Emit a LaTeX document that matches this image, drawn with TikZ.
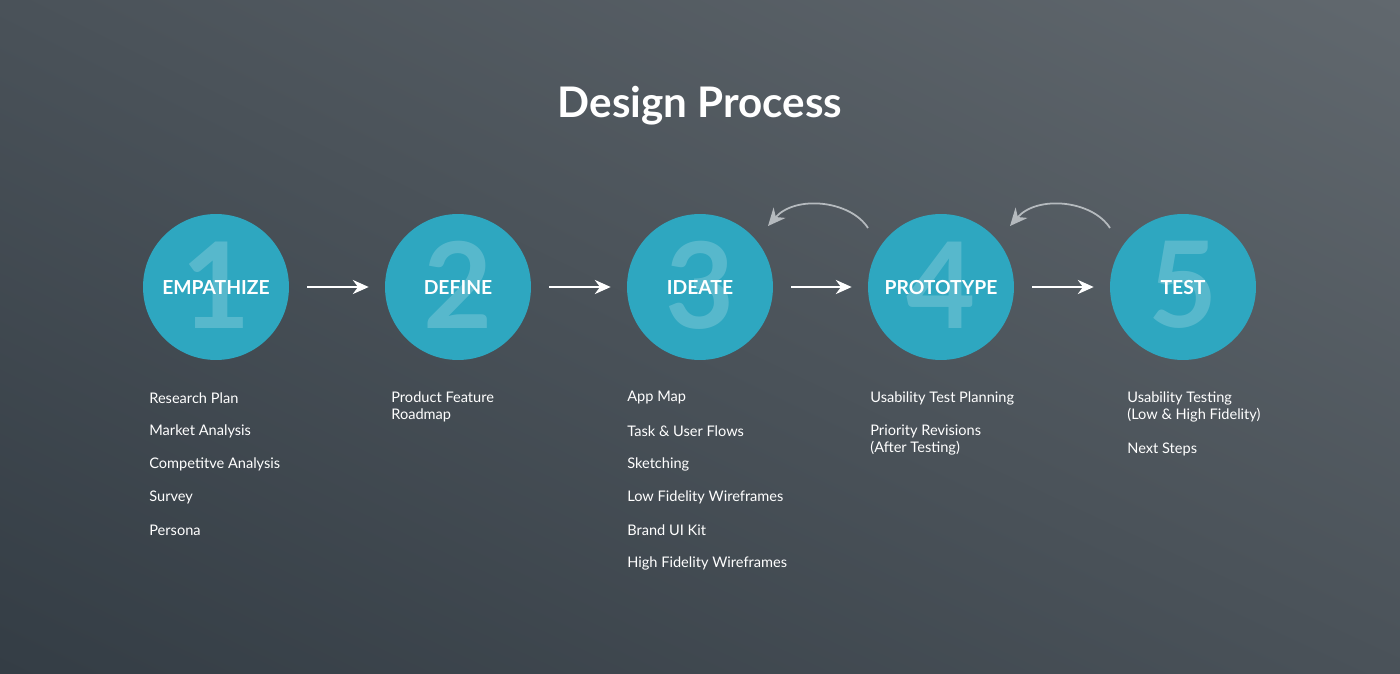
\documentclass[tikz,border=0pt]{standalone}
\usepackage{fontspec}
\setmainfont{Lato}
\usetikzlibrary{arrows.meta,shadings}
\definecolor{bgA}{HTML}{343D45}
\definecolor{bgB}{HTML}{61686E}
\definecolor{bgM}{HTML}{4A5259}
\definecolor{teal}{HTML}{2EA7C0}
\definecolor{curv}{HTML}{B5BABE}
\newcommand{\pxu}{*0.02cm}
\tikzset{
 stage/.style={circle,fill=teal,minimum size=2.92cm,inner sep=0pt},
 digit/.style={text=white,opacity=0.2,font=\fontsize{68}{68}\selectfont\bfseries},
 slabel/.style={text=white,font=\fontsize{11}{13}\selectfont\bfseries},
 item/.style={text=white,anchor=west,align=left,font=\fontsize{8.3}{10}\selectfont,inner sep=0pt},
 flow/.style={white,line width=1.3pt,-{Stealth[length=9pt,width=8pt]}},
 back/.style={curv,line width=1pt,-{Stealth[length=10pt,width=9pt]}},
}
\begin{document}
\begin{tikzpicture}[x=0.02cm,y=-0.02cm]
\shade[lower left=bgA,upper right=bgB,upper left=bgM,lower right=bgM] (0,0) rectangle (1400,673);
\useasboundingbox (0,0) rectangle (1400,673);
\node[text=white,font=\fontsize{24}{28}\selectfont\bfseries] (title) at (700,106) {Design Process};
\foreach \n/\x/\d/\t in {s1/216/1/EMPATHIZE,s2/458/2/DEFINE,s3/700/3/IDEATE,s4/941/4/PROTOTYPE,s5/1183/5/TEST}{
 \node[stage] (\n) at (\x,287) {};
 \node[digit] (\n d) at (\x,285) {\d};
 \node[slabel] (\n l) at (\x,288) {\t};
}
\foreach \a/\b in {s1/s2,s2/s3,s3/s4,s4/s5}{
 \draw[flow] ([xshift=0.36cm]\a.east) -- ([xshift=-0.32cm]\b.west);
}
\coordinate (c4) at (868,228); \coordinate (c3) at (768,226);
\coordinate (c5) at (1110,228); \coordinate (c4b) at (1010,226);
\draw[back] (c4) .. controls (850,200) and (795,195) .. (c3);
\draw[back] (c5) .. controls (1092,200) and (1037,195) .. (c4b);
\node[item] (i1) at (149,398) {Research Plan};
\node[item] (i2) at (149,431) {Market Analysis};
\node[item] (i3) at (149,464) {Competitve Analysis};
\node[item] (i4) at (149,497) {Survey};
\node[item] (i5) at (149,530) {Persona};
\node[item] (j1) at (391,407) {Product Feature\\Roadmap};
\node[item] (k1) at (627,398) {App Map};
\node[item] (k2) at (627,431) {Task \& User Flows};
\node[item] (k3) at (627,464) {Sketching};
\node[item] (k4) at (627,497) {Low Fidelity Wireframes};
\node[item] (k5) at (627,530) {Brand UI Kit};
\node[item] (k6) at (627,563) {High Fidelity Wireframes};
\node[item] (m1) at (870,398) {Usability Test Planning};
\node[item] (m2) at (870,440) {Priority Revisions\\(After Testing)};
\node[item] (n1) at (1127,407) {Usability Testing\\(Low \& High Fidelity)};
\node[item] (n2) at (1127,449) {Next Steps};
\end{tikzpicture}
\end{document}
